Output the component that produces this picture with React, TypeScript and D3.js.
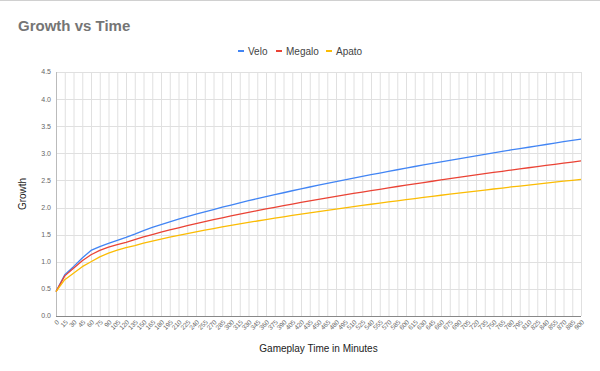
import * as d3 from 'd3'

const minutes = [
  0, 15, 30, 45, 60, 75, 90, 105, 120, 135, 150, 165, 180, 195, 210, 225, 240, 255, 270, 285, 300,
  315, 330, 345, 360, 375, 390, 405, 420, 435, 450, 465, 480, 495, 510, 525, 540, 555, 570, 585, 600,
  615, 630, 645, 660, 675, 690, 705, 720, 735, 750, 765, 780, 795, 810, 825, 840, 855, 870, 885, 900,
]

const velo = [
  0.45, 0.76, 0.91, 1.07, 1.21, 1.28, 1.34, 1.395, 1.45, 1.51, 1.575, 1.635, 1.687, 1.737, 1.785,
  1.832, 1.877, 1.921, 1.964, 2.006, 2.047, 2.087, 2.126, 2.164, 2.201, 2.238, 2.273, 2.31, 2.345,
  2.379, 2.413, 2.446, 2.48, 2.512, 2.544, 2.575, 2.606, 2.637, 2.668, 2.697, 2.727, 2.757, 2.786,
  2.814, 2.844, 2.871, 2.898, 2.927, 2.954, 2.981, 3.008, 3.035, 3.062, 3.087, 3.112, 3.138, 3.163,
  3.189, 3.215, 3.239, 3.263,
]

const megalo = [
  0.45, 0.74, 0.88, 1.02, 1.13, 1.21, 1.27, 1.315, 1.36, 1.41, 1.458, 1.502, 1.545, 1.587, 1.627,
  1.666, 1.704, 1.741, 1.776, 1.811, 1.845, 1.879, 1.911, 1.943, 1.974, 2.005, 2.034, 2.065, 2.094,
  2.122, 2.151, 2.178, 2.207, 2.234, 2.26, 2.286, 2.312, 2.337, 2.363, 2.388, 2.413, 2.438, 2.461,
  2.485, 2.51, 2.533, 2.555, 2.579, 2.602, 2.624, 2.647, 2.669, 2.692, 2.713, 2.734, 2.755, 2.776,
  2.798, 2.819, 2.839, 2.859,
]

const apato = [
  0.45, 0.67, 0.79, 0.91, 1.0, 1.09, 1.16, 1.215, 1.26, 1.3, 1.345, 1.383, 1.419, 1.454, 1.487, 1.52,
  1.552, 1.583, 1.612, 1.642, 1.67, 1.698, 1.725, 1.752, 1.778, 1.804, 1.829, 1.854, 1.879, 1.902,
  1.926, 1.949, 1.973, 1.996, 2.017, 2.04, 2.061, 2.082, 2.104, 2.125, 2.146, 2.166, 2.186, 2.206,
  2.227, 2.246, 2.265, 2.285, 2.304, 2.323, 2.342, 2.36, 2.38, 2.397, 2.415, 2.433, 2.45, 2.468,
  2.486, 2.503, 2.52,
]

const yTicks = [0, 0.5, 1, 1.5, 2, 2.5, 3, 3.5, 4, 4.5]

const series = [
  { name: 'Velo', values: velo, color: '#4285f4' },
  { name: 'Megalo', values: megalo, color: '#ea4335' },
  { name: 'Apato', values: apato, color: '#fbbc04' },
]

const width = 600
const height = 371
const margin = { top: 72, right: 19, bottom: 55, left: 56 }
const font = 'Arial, "Liberation Sans", sans-serif'

export default function App() {
  const x = d3
    .scaleLinear()
    .domain([0, 900])
    .range([margin.left, width - margin.right])
  const y = d3
    .scaleLinear()
    .domain([0, 4.5])
    .range([height - margin.bottom, margin.top])

  const line = d3
    .line<number>()
    .x((_, i) => x(minutes[i]))
    .y(d => y(d))

  // legend positions (centered group)
  const legendItems = [
    { ...series[0], x: 238 },
    { ...series[1], x: 276 },
    { ...series[2], x: 326 },
  ]

  return (
    <div style={{ position: 'fixed', left: 0, top: 0, background: '#fff' }}>
      <svg width={width} height={height} style={{ display: 'block', fontFamily: font }}>
        <rect width={width} height={height} fill="#fff" />
        <line x1={0} x2={width} y1={0.5} y2={0.5} stroke="#d0d0d0" />

        <text x={18} y={31} fontSize={15} fontWeight="bold" fill="#757575">
          Growth vs Time
        </text>

        {/* Legend */}
        {legendItems.map(s => (
          <g key={s.name}>
            <rect x={s.x} y={50} width={6} height={2} fill={s.color} />
            <text x={s.x + 10} y={54.5} fontSize={10} fill="#444">
              {s.name}
            </text>
          </g>
        ))}

        {/* vertical grid */}
        {minutes.map(m => (
          <line
            key={'vx' + m}
            x1={x(m) + 0.5}
            x2={x(m) + 0.5}
            y1={y(4.5)}
            y2={y(0)}
            stroke="#e0e0e0"
            strokeWidth={1}
          />
        ))}

        {/* horizontal grid */}
        {yTicks.map(t => (
          <g key={'hy' + t}>
            <line
              x1={x(0)}
              x2={x(900)}
              y1={Math.round(y(t)) + 0.5}
              y2={Math.round(y(t)) + 0.5}
              stroke={t === 0 ? '#888' : '#e0e0e0'}
              strokeWidth={1}
            />
            <text
              x={x(0) - 5}
              y={y(t)}
              dy="0.35em"
              textAnchor="end"
              fontSize={7}
              fill="#666"
            >
              {d3.format('.1f')(t)}
            </text>
          </g>
        ))}

        <line x1={x(0) + 0.5} x2={x(0) + 0.5} y1={y(4.5)} y2={y(0)} stroke="#bbb" />

        {/* x tick labels */}
        {minutes.map(m => (
          <text
            key={'xl' + m}
            transform={`translate(${x(m) + 2},${y(0) + 5}) rotate(-45)`}
            textAnchor="end"
            dy="0.35em"
            fontSize={6.5}
            fill="#666"
          >
            {m}
          </text>
        ))}

        {/* series */}
        {series.map(s => (
          <path
            key={s.name}
            d={line(s.values) ?? ''}
            fill="none"
            stroke={s.color}
            strokeWidth={1.3}
            strokeLinejoin="round"
          />
        ))}

        <text x={(x(0) + x(900)) / 2} y={352} textAnchor="middle" fontSize={10} fill="#222">
          Gameplay Time in Minutes
        </text>
        <text
          transform={`translate(26,${(y(0) + y(4.5)) / 2}) rotate(-90)`}
          textAnchor="middle"
          fontSize={10}
          fill="#222"
        >
          Growth
        </text>
      </svg>
    </div>
  )
}
